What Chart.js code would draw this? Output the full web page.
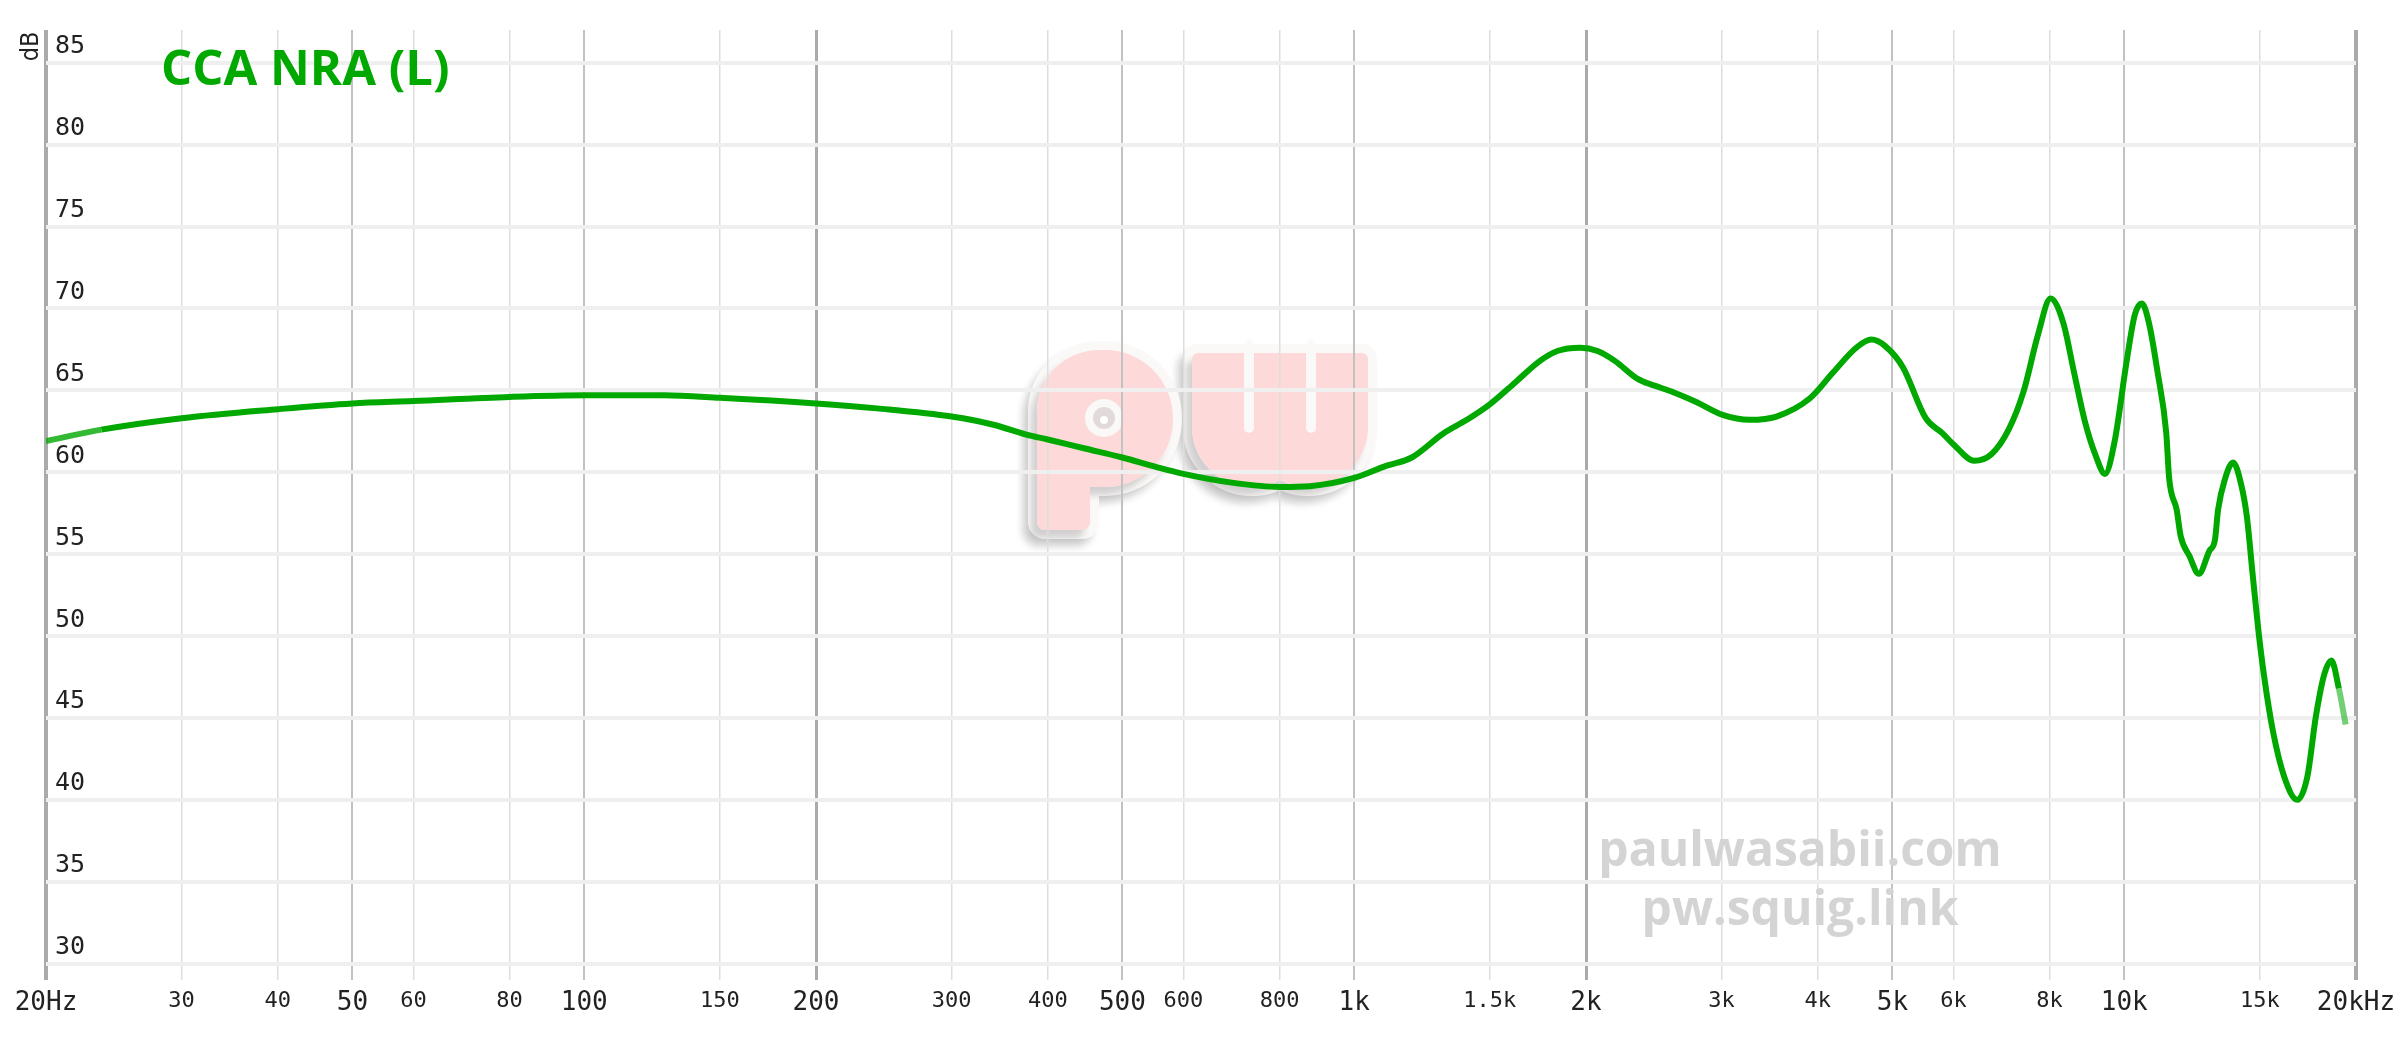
<!DOCTYPE html>
<html>
<head>
<meta charset="utf-8">
<script src="https://cdn.jsdelivr.net/npm/chart.js@4.4.1/dist/chart.umd.min.js"></script>
<style>
  html, body { margin: 0; padding: 0; background: #fff; }
  #wrap { width: 2400px; height: 1038px; }
</style>
</head>
<body>
<div id="wrap"><canvas id="fr" width="2400" height="1038"></canvas></div>
<script>
const freqs = [20, 23.6, 30, 40, 50, 60, 80, 100, 127, 150,
    200, 240, 300, 340, 375, 400, 447, 500, 555, 600,
    697, 800, 876, 1000, 1102, 1188, 1304, 1400, 1500, 1620,
    1743, 1836, 1966, 2070, 2180, 2334, 2450, 2592, 2777, 3009,
    3264, 3535, 3904, 4189, 4487, 4694, 4894, 5161, 5524, 5800,
    6003, 6385, 6722, 7078, 7398, 7728, 8022, 8336, 8607, 8891,
    9185, 9441, 9719, 10060, 10320, 10540, 10770, 11050, 11340, 11440,
    11700, 11840, 12150, 12500, 12900, 13120, 13240, 13520, 13850, 14180,
    14430, 14680, 14940, 15200, 15600, 16140, 16780, 17290, 17740, 18200,
    18580, 19000, 19390];
const levels = [61.9, 62.6, 63.3, 63.85, 64.2, 64.35, 64.6, 64.7, 64.7, 64.55,
    64.2, 63.9, 63.4, 62.9, 62.3, 62.0, 61.45, 60.9, 60.3, 59.9,
    59.35, 59.1, 59.15, 59.65, 60.4, 60.9, 62.35, 63.2, 64.15, 65.5,
    66.8, 67.4, 67.6, 67.4, 66.8, 65.7, 65.3, 64.9, 64.3, 63.5,
    63.2, 63.4, 64.5, 66.1, 67.6, 68.1, 67.7, 66.4, 63.3, 62.4,
    61.7, 60.7, 61.1, 62.6, 64.9, 68.4, 70.6, 69.1, 66.1, 63.1,
    61.0, 59.9, 61.9, 66.6, 69.6, 70.3, 69.1, 66.1, 62.4, 59.6,
    57.7, 56.1, 54.9, 53.8, 55.2, 55.9, 57.7, 59.6, 60.6, 59.3,
    57.3, 53.8, 50.3, 47.5, 44.2, 41.4, 40.0, 41.4, 45.1, 47.7,
    48.5, 46.8, 44.6];

const xTicks = [20, 30, 40, 50, 60, 80, 100, 150, 200, 300, 400, 500, 600, 800,
    1000, 1500, 2000, 3000, 4000, 5000, 6000, 8000, 10000, 15000, 20000];
const xLabels = ['20Hz', '30', '40', '50', '60', '80', '100', '150', '200', '300', '400', '500', '600', '800',
    '1k', '1.5k', '2k', '3k', '4k', '5k', '6k', '8k', '10k', '15k', '20kHz'];
const majorTicks = [20, 50, 100, 200, 500, 1000, 2000, 5000, 10000, 20000];
const yTicks = [30, 35, 40, 45, 50, 55, 60, 65, 70, 75, 80, 85];

const title = 'CCA NRA (L)';
const watermark = ['paulwasabii.com', 'pw.squig.link'];

const green = '#00a800';
const points = freqs.map((f, i) => ({ x: f, y: levels[i] }));
const lastIdx = points.length - 1;

function vLineWidth(v) {
    if (v === 20 || v === 20000) return 4;
    if (v === 200 || v === 2000) return 3;
    if (majorTicks.includes(v)) return 2;
    return 1.5;
}
function vLineColor(v) {
    if (v === 20 || v === 20000 || v === 200 || v === 2000) return '#aaaaaa';
    if (majorTicks.includes(v)) return '#c2c2c2';
    return '#dedede';
}

// rounded rect into a path, radii = [tl, tr, br, bl]
function rr(p, x, y, w, h, r) {
    const [tl, tr, br, bl] = r;
    p.moveTo(x + tl, y);
    p.lineTo(x + w - tr, y);
    p.arcTo(x + w, y, x + w, y + tr, tr);
    p.lineTo(x + w, y + h - br);
    p.arcTo(x + w, y + h, x + w - br, y + h, br);
    p.lineTo(x + bl, y + h);
    p.arcTo(x, y + h, x, y + h - bl, bl);
    p.lineTo(x, y + tl);
    p.arcTo(x, y, x + tl, y, tl);
    p.closePath();
}

function drawLogo(c) {
    const shape = new Path2D();
    rr(shape, 1037, 350, 136, 137, [62, 68, 68, 30]);   // p bowl
    rr(shape, 1037, 410, 53, 120, [0, 0, 8, 8]);         // p stem
    rr(shape, 1192, 353, 120, 134, [6, 6, 60, 60]);      // w left half
    rr(shape, 1248, 353, 120, 134, [6, 6, 60, 60]);      // w right half

    c.save();
    c.lineJoin = 'round';
    c.shadowColor = 'rgba(0,0,0,0.17)';
    c.shadowBlur = 7;
    c.shadowOffsetX = -6;
    c.shadowOffsetY = 8;
    c.fillStyle = '#fbf8f8';
    c.strokeStyle = '#fbf8f8';
    c.lineWidth = 18;
    c.stroke(shape);
    c.fill(shape);
    c.shadowColor = 'transparent';
    c.fillStyle = '#fdd9da';
    c.fill(shape);

    // slits of the w
    c.strokeStyle = '#fbf8f8';
    c.lineCap = 'round';
    c.lineWidth = 10;
    c.beginPath();
    c.moveTo(1249, 345); c.lineTo(1249, 428);
    c.moveTo(1311, 345); c.lineTo(1311, 428);
    c.stroke();

    // counter of the p
    c.fillStyle = '#fbf8f8';
    c.beginPath(); c.arc(1104, 418, 19, 0, Math.PI * 2); c.fill();
    c.fillStyle = '#e2dada';
    c.beginPath(); c.arc(1104, 418, 11, 0, Math.PI * 2); c.fill();
    c.fillStyle = '#ffffff';
    c.beginPath(); c.arc(1104, 420, 4, 0, Math.PI * 2); c.fill();
    c.restore();
}

const decor = {
    id: 'decor',
    beforeDraw(chart) {
        const c = chart.ctx;
        c.save();
        c.fillStyle = '#fff';
        c.fillRect(0, 0, chart.width, chart.height);
        c.restore();
        drawLogo(c);
    },
    beforeDatasetsDraw(chart) {
        const c = chart.ctx;
        c.save();
        c.font = 'bold 48px "Open Sans"';
        c.fillStyle = '#d4d4d4';
        c.textAlign = 'center';
        c.textBaseline = 'alphabetic';
        c.fillText(watermark[0], 1800, 866);
        c.fillText(watermark[1], 1800, 925);
        c.restore();
    },
    afterDraw(chart) {
        const c = chart.ctx;
        c.save();
        c.font = 'bold 49px "Open Sans"';
        c.fillStyle = green;
        c.textAlign = 'left';
        c.textBaseline = 'alphabetic';
        c.fillText(title, 161, 85);

        c.translate(38, 46.5);
        c.rotate(-Math.PI / 2);
        c.font = '25px "DejaVu Sans Condensed", "DejaVu Sans"';
        c.fillStyle = '#222';
        c.textAlign = 'center';
        c.textBaseline = 'alphabetic';
        c.fillText('dB', 0, 0);
        c.restore();
    }
};

new Chart(document.getElementById('fr'), {
    type: 'line',
    data: {
        datasets: [{
            data: points,
            borderColor: green,
            borderWidth: 6,
            pointRadius: 0,
            fill: false,
            cubicInterpolationMode: 'monotone',
            segment: {
                borderColor: ctx => (ctx.p1DataIndex === lastIdx ? 'rgba(0,168,0,0.55)' :
                    ctx.p0DataIndex === 0 ? 'rgba(0,168,0,0.8)' : undefined)
            }
        }]
    },
    options: {
        responsive: false,
        animation: false,
        devicePixelRatio: 1,
        layout: { padding: { left: 46, right: 44, top: 30, bottom: 0 } },
        plugins: { legend: { display: false }, tooltip: { enabled: false } },
        scales: {
            x: {
                type: 'logarithmic',
                min: 20,
                max: 20000,
                afterBuildTicks: axis => { axis.ticks = xTicks.map(v => ({ value: v })); },
                afterFit: axis => {
                    axis.paddingLeft = 0;
                    axis.paddingRight = 0;
                    axis.height = 58;
                },
                border: { display: false },
                grid: {
                    drawTicks: false,
                    color: ctx => vLineColor(ctx.tick ? ctx.tick.value : 0),
                    lineWidth: ctx => vLineWidth(ctx.tick ? ctx.tick.value : 0)
                },
                ticks: {
                    autoSkip: false,
                    maxRotation: 0,
                    padding: 8,
                    color: '#222',
                    font: ctx => ({
                        family: '"DejaVu Sans Mono", monospace',
                        size: ctx.tick && majorTicks.includes(ctx.tick.value) ? 26 : 22
                    }),
                    callback: (v) => {
                        const i = xTicks.indexOf(v);
                        return i >= 0 ? xLabels[i] : '';
                    }
                }
            },
            y: {
                min: 29,
                max: 87,
                afterBuildTicks: axis => { axis.ticks = yTicks.map(v => ({ value: v })); },
                afterFit: axis => {
                    axis.width = 0;
                    axis.paddingTop = 0;
                    axis.paddingBottom = 0;
                },
                border: { display: false },
                grid: { drawTicks: false, color: '#efefef', lineWidth: 4 },
                ticks: {
                    mirror: true,
                    padding: 9,
                    labelOffset: -16,
                    color: '#222',
                    font: { family: '"DejaVu Sans Mono", monospace', size: 25 }
                }
            }
        }
    },
    plugins: [decor]
});
</script>
</body>
</html>
